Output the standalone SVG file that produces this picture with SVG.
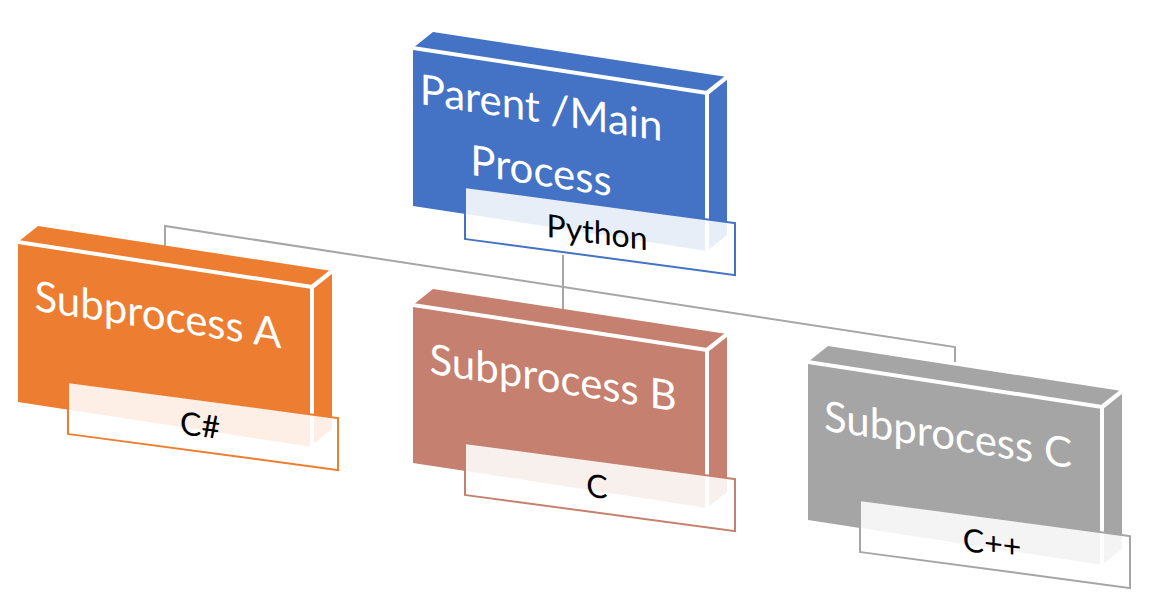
<svg xmlns="http://www.w3.org/2000/svg" width="1168" height="606" viewBox="0 0 1168 606">
<style>
.edge{fill:none;stroke:#fff;stroke-width:4}
.t{font-family:Lato,"Open Sans",sans-serif;fill:#fff;font-size:42px;text-anchor:middle}
.lt{font-family:Lato,"Open Sans",sans-serif;fill:#000;font-size:32px;text-anchor:middle}
.lab{fill:#fff;fill-opacity:0.88;stroke-width:2}
.con{fill:none;stroke:#a6a6a6;stroke-width:2}
</style>
<rect width="1168" height="606" fill="#fff"/>
<g id="connectors">
<path class="con" d="M165,258 V226 L955,347 V362"/>
<path class="con" d="M563,255 V312"/>
</g>
<g id="parent" transform="translate(413,48) skewY(8.7)">
<polygon points="0,0 20,-19 314,-19 294,0" fill="#4472C4"/>
<polygon points="294,0 314,-19 314,139 294,158" fill="#4472C4"/>
<rect width="294" height="158" fill="#4472C4"/>
<polyline class="edge" points="0,0 294,0 294,158"/><line class="edge" x1="294" y1="0" x2="314" y2="-19"/>
<text class="t" x="128" y="55">Parent /Main</text>
<text class="t" x="128" y="118">Process</text>
</g>
<g id="parent-label" transform="translate(465,187) skewY(7.6)">
<rect class="lab" width="270" height="52" stroke="#4472C4"/>
<text class="lt" x="132" y="39">Python</text>
</g>
<g id="subA" transform="translate(18,242) skewY(8.7)">
<polygon points="0,0 20,-19 314,-19 294,0" fill="#ED7D31"/>
<polygon points="294,0 314,-19 314,139 294,158" fill="#ED7D31"/>
<rect width="294" height="160" fill="#ED7D31"/>
<polyline class="edge" points="0,0 294,0 294,160"/><line class="edge" x1="294" y1="0" x2="314" y2="-19"/>
<text class="t" x="140" y="66">Subprocess A</text>
</g>
<g id="subA-label" transform="translate(68,382) skewY(7.6)">
<rect class="lab" width="270" height="52" stroke="#ED7D31"/>
<text class="lt" x="132" y="37">C#</text>
</g>
<g id="subB" transform="translate(413,305) skewY(8.7)">
<polygon points="0,0 20,-19 314,-19 294,0" fill="#C5806F"/>
<polygon points="294,0 314,-19 314,139 294,158" fill="#C5806F"/>
<rect width="294" height="158" fill="#C5806F"/>
<polyline class="edge" points="0,0 294,0 294,158"/><line class="edge" x1="294" y1="0" x2="314" y2="-19"/>
<text class="t" x="140" y="66">Subprocess B</text>
</g>
<g id="subB-label" transform="translate(465,443) skewY(7.6)">
<rect class="lab" width="270" height="52" stroke="#C5806F"/>
<text class="lt" x="132" y="37">C</text>
</g>
<g id="subC" transform="translate(808,362) skewY(8.7)">
<polygon points="0,0 20,-19 314,-19 294,0" fill="#A5A5A5"/>
<polygon points="294,0 314,-19 314,139 294,158" fill="#A5A5A5"/>
<rect width="294" height="158" fill="#A5A5A5"/>
<polyline class="edge" points="0,0 294,0 294,158"/><line class="edge" x1="294" y1="0" x2="314" y2="-19"/>
<text class="t" x="140" y="66">Subprocess C</text>
</g>
<g id="subC-label" transform="translate(860,500) skewY(7.6)">
<rect class="lab" width="270" height="52" stroke="#A5A5A5"/>
<text class="lt" x="132" y="37">C++</text>
</g>
</svg>
